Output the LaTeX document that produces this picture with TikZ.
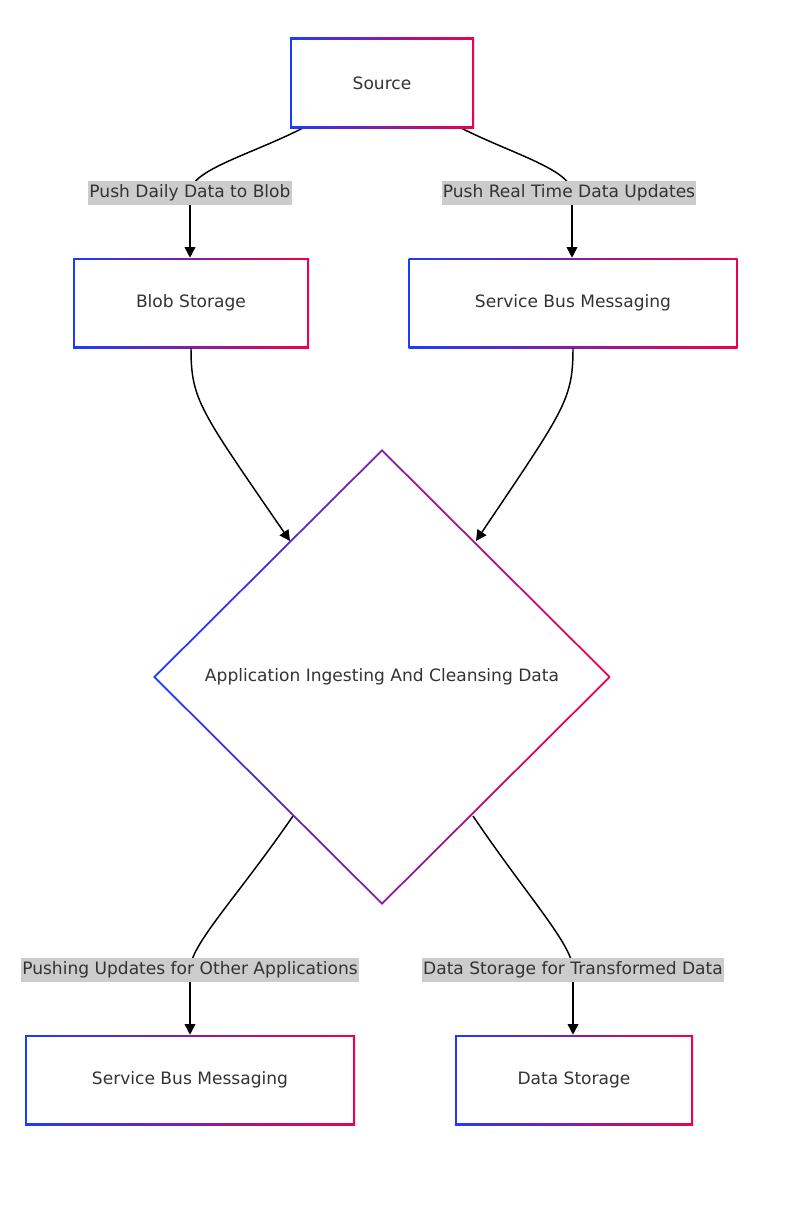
\documentclass[tikz,border=0pt]{standalone}
\usepackage{fontspec}
\setmainfont{DejaVu Sans}
\usetikzlibrary{shapes.geometric,arrows.meta,calc}
\definecolor{gb}{HTML}{1A3CFF}
\definecolor{gr}{HTML}{F0004A}
\definecolor{tx}{HTML}{333333}
\definecolor{lb}{HTML}{CCCCCC}
\begin{document}
\begin{tikzpicture}[x=0.75pt,y=-0.75pt,
  fnt/.style={font=\fontsize{12.8}{15}\selectfont},
  box/.style={rectangle,minimum width=#1,minimum height=67.5pt,inner sep=0,text=tx,fnt,
    path picture={\shade[left color=gb,right color=gr] (path picture bounding box.south west) rectangle (path picture bounding box.north east);
      \fill[white] ($(path picture bounding box.south west)+(1.4pt,1.4pt)$) rectangle ($(path picture bounding box.north east)+(-1.4pt,-1.4pt)$);}},
  dia/.style={diamond,aspect=1,minimum width=343.5pt,minimum height=342pt,inner sep=0,text=tx,fnt,
    path picture={\shade[left color=gb,right color=gr] (path picture bounding box.south west) rectangle (path picture bounding box.north east);
      \coordinate (pc) at (path picture bounding box.center);
      \fill[white] ($(pc)!0.988!(path picture bounding box.north -| pc)$) -- ($(pc)!0.988!(path picture bounding box.east |- pc)$) -- ($(pc)!0.988!(path picture bounding box.south -| pc)$) -- ($(pc)!0.988!(path picture bounding box.west |- pc)$) -- cycle;}},
  lab/.style={fill=lb,text=tx,inner xsep=1pt,inner ysep=2.5pt,fnt},
  ln/.style={line width=1.1pt},
  edge/.style={ln,-{Triangle[length=8pt,width=8pt]}}]
\useasboundingbox (0,0) rectangle (806,1206);
\fill[white] (0,0) rectangle (806,1206);
\coordinate (e1) at (303,128);
\coordinate (e2) at (461,128);
\coordinate (e3) at (293,816);
\coordinate (e4) at (473,816);
\coordinate (c1) at (190,193);
\coordinate (c2) at (572,193);
\coordinate (c3) at (190,970);
\coordinate (c4) at (573,970);
\draw[ln] (e1) .. controls (250,155) and (190,170) .. (c1);
\draw[ln] (e2) .. controls (515,155) and (572,170) .. (c2);
\draw[ln] (e3) .. controls (235,900) and (190,945) .. (c3);
\draw[ln] (e4) .. controls (530,900) and (573,945) .. (c4);
\node[box=138pt] (src) at (382,83) {Source};
\node[box=177pt] (blob) at (191,303) {Blob Storage};
\node[box=246.75pt] (sbm1) at (573,303) {Service Bus Messaging};
\node[dia] (app) at (382,677) {Application Ingesting And Cleansing Data};
\node[box=247.5pt] (sbm2) at (190,1080) {Service Bus Messaging};
\node[box=178.5pt] (ds) at (574,1080) {Data Storage};
\node[lab] (l1) at (190,193) {Push Daily Data to Blob};
\node[lab] (l2) at (569,193) {Push Real Time Data Updates};
\node[lab] (l3) at (190,970) {Pushing Updates for Other Applications};
\node[lab] (l4) at (573,970) {Data Storage for Transformed Data};
\draw[edge] (l1.south -| c1) -- (blob.north -| c1);
\draw[edge] (l2.south -| c2) -- (sbm1.north -| c2);
\draw[edge] (blob.south) .. controls (191,400) and (200,410) .. (290,541);
\draw[edge] (sbm1.south) .. controls (573,400) and (564,410) .. (476,541);
\draw[edge] (l3.south -| c3) -- (sbm2.north -| c3);
\draw[edge] (l4.south -| c4) -- (ds.north -| c4);
\end{tikzpicture}
\end{document}
